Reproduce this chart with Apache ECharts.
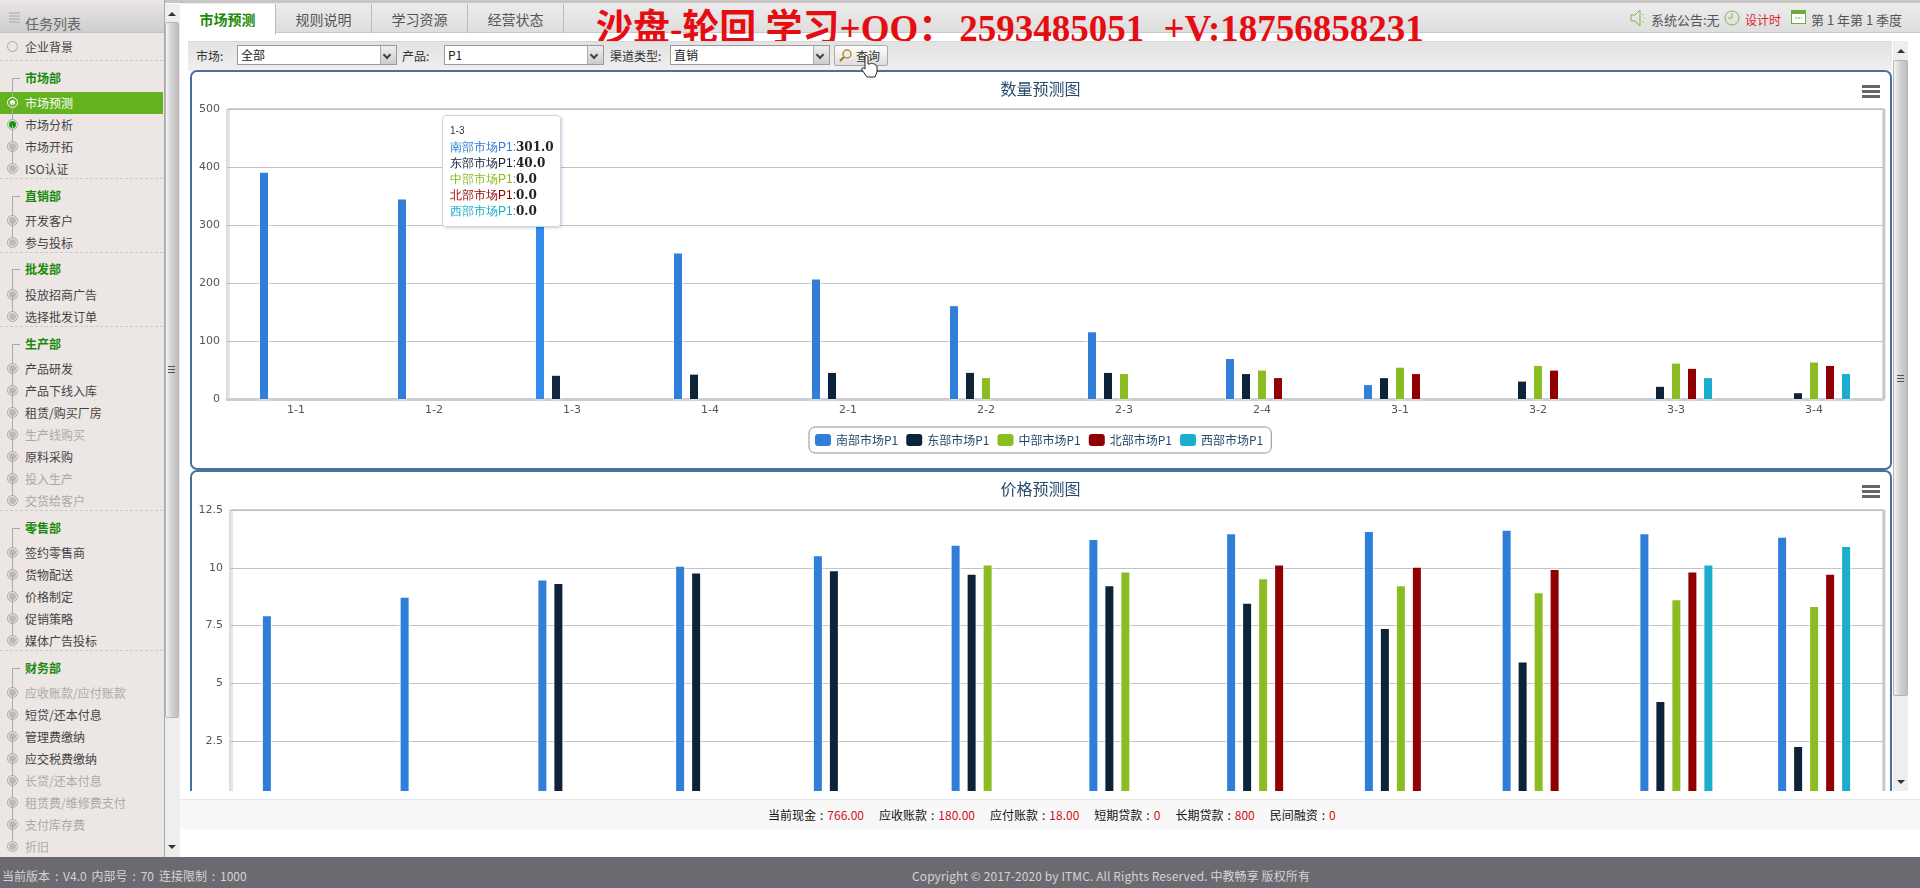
<!DOCTYPE html>
<html>
<head>
<meta charset="utf-8">
<title>市场预测</title>
<script src="https://cdn.jsdelivr.net/npm/echarts@6/dist/echarts.min.js"></script>
<style>
html, body { margin: 0; padding: 0; width: 1920px; height: 888px; overflow: hidden; background: #fff; font: 12px "Noto Sans CJK SC", sans-serif; color: #444; }
.abs { position: absolute; white-space: nowrap; }
#side { left: 0; top: 0; width: 164px; height: 857px; background: #ece6e5; overflow: hidden; border-right: 1px solid #aaa; }
#sideHead { left: 0; top: 4px; width: 164px; height: 28px; background: linear-gradient(#e4e2e2, #cfcdcd); border-bottom: 1px solid #c4c2c2; }
.bar { background: linear-gradient(90deg, #f4f4f4, #d0d0d0 50%, #bfbfbf); border: 1px solid #b5b5b5; box-sizing: border-box; border-radius: 2px; }
.track { background: #eee; }
.tab { top: 4px; height: 29px; width: 96px; line-height: 30px; text-align: center; font-size: 14px; color: #555; border-right: 1px solid #bbb; box-sizing: border-box; }
.sel { height: 20px; background: #fff; border: 1px solid #9a9a9a; box-sizing: border-box; line-height: 18px; padding-left: 3px; color: #222; }
.sel i { position: absolute; right: 0; top: 0; width: 15px; height: 18px; background: linear-gradient(#eee, #ccc); border-left: 1px solid #aaa; }
.sel i:after { content: ""; position: absolute; left: 3px; top: 6px; width: 4px; height: 4px; border-right: 2px solid #444; border-bottom: 2px solid #444; transform: rotate(45deg); }
.panel { left: 190px; width: 1702px; box-sizing: border-box; border: 2px solid #4a709c; border-radius: 7px; background: #fff; }
.chart { position: absolute; }
</style>
</head>
<body>
<div class="abs" style="left:0;top:0;width:1920px;height:3px;background:#c9c5c5"></div>

<!-- left task list -->
<div class="abs" id="side"></div>
<div class="abs" id="sideHead"></div>
<svg class="abs" style="left:9px;top:12px" width="12" height="13"><path d="M0 1h11M0 4h11M0 7h11M0 10h11" stroke="#aaa"/></svg>
<div class="abs" style="left:25px;top:14px;font-size:14px;line-height:18px;color:#666">任务列表</div>
<div id="nav"></div>
<div class="abs track" style="left:165px;top:4px;width:15px;height:853px"></div>
<div class="abs" style="left:168px;top:12px;border:4px solid transparent;border-bottom:4px solid #333;border-top:0"></div>
<div class="abs bar" style="left:165px;top:22px;width:14px;height:696px"></div>
<div class="abs" style="left:168px;top:366px;width:7px;height:7px;border-top:1px solid #555;border-bottom:1px solid #555;box-sizing:border-box"></div>
<div class="abs" style="left:168px;top:369px;width:7px;height:1px;background:#555"></div>
<div class="abs" style="left:168px;top:845px;border:4px solid transparent;border-top:4px solid #333;border-bottom:0"></div>

<!-- tabs -->
<div class="abs" style="left:180px;top:3px;width:1740px;height:29px;background:linear-gradient(#ececec,#dedede);border-bottom:1px solid #c9c9c9"></div>
<div class="abs tab" id="tab0" style="left:180px;background:#fff;color:#1a8a0a;font-weight:bold;height:31px">市场预测</div>
<div class="abs tab" style="left:276px">规则说明</div>
<div class="abs tab" style="left:372px">学习资源</div>
<div class="abs tab" style="left:468px">经营状态</div>
<div class="abs" id="banner" style="left:596px;top:8px;font:bold 37px/42px 'Liberation Serif','Noto Sans CJK SC',serif;color:#e60d12">沙盘-轮回 学习+QQ：<span style="margin-left:4px">2593485051</span> <span style="margin-left:10px">+V:18756858231</span></div>

<svg class="abs" style="left:1630px;top:8px" width="16" height="20" fill="none" stroke="#7ab648"><path d="M1 7h4l5-5v16l-5-5H1zM13 6v1M13 13v1M14 10h1"/></svg>
<div class="abs" style="left:1651px;top:10px;color:#555;font-size:13px">系统公告:无</div>
<svg class="abs" style="left:1724px;top:10px" width="16" height="16" fill="none" stroke="#7ab648"><circle cx="8" cy="8" r="7"/><path d="M8 3v5H4"/></svg>
<div class="abs" style="left:1745px;top:11px;color:#d9232a">设计时</div>
<svg class="abs" style="left:1791px;top:10px" width="16" height="15"><rect x=".5" y=".5" width="14" height="13" fill="#fff" stroke="#6dab3c"/><rect x="1" y="1" width="13" height="3" fill="#6dab3c"/><path d="M4 8h7" stroke="#6dab3c" stroke-dasharray="2 1"/></svg>
<div class="abs" style="left:1811px;top:10px;color:#555;font-size:13px">第 1 年第 1 季度</div>

<!-- filter bar -->
<div class="abs" style="left:188px;top:41px;width:1704px;height:30px;background:linear-gradient(#e2e2e2,#f0f0f0);border-top:1px solid #d8d8d8;box-sizing:border-box"></div>
<div class="abs" style="left:196px;top:47px;color:#333">市场:</div>
<div class="abs sel" style="left:237px;top:45px;width:160px">全部<i></i></div>
<div class="abs" style="left:402px;top:47px;color:#333">产品:</div>
<div class="abs sel" style="left:444px;top:45px;width:160px">P1<i></i></div>
<div class="abs" style="left:610px;top:47px;color:#333">渠道类型:</div>
<div class="abs sel" style="left:670px;top:45px;width:160px">直销<i></i></div>
<div class="abs" style="left:834px;top:45px;width:54px;height:21px;border:1px solid #aaa;box-sizing:border-box;background:linear-gradient(#fff,#ddd);line-height:20px;padding-left:21px;color:#333;border-radius:2px">查询</div>
<svg class="abs" style="left:838px;top:48px" width="15" height="15" fill="none"><circle cx="9" cy="6" r="4" stroke="#c08a30" stroke-width="1.5" fill="#e6eef8"/><path d="M6 9l-4 4" stroke="#b06a20" stroke-width="2"/></svg>

<!-- chart panels -->
<div class="abs panel" style="top:70px;height:400px"></div>
<div class="abs" style="left:190px;top:470px;width:1702px;height:321px;overflow:hidden">
  <div class="abs panel" style="left:0;top:0;height:420px"></div>
  <div class="chart" id="priceChart" style="left:0;top:2px;width:1701px;height:420px"></div>
</div>
<div class="chart" id="qtyChart" style="left:190px;top:71px;width:1701px;height:399px"></div>

<!-- right scrollbar -->
<div class="abs track" style="left:1893px;top:41px;width:15px;height:750px"></div>
<div class="abs" style="left:1897px;top:49px;border:4px solid transparent;border-bottom:4px solid #333;border-top:0"></div>
<div class="abs bar" style="left:1893px;top:60px;width:15px;height:636px"></div>
<div class="abs" style="left:1897px;top:375px;width:7px;height:7px;border-top:1px solid #555;border-bottom:1px solid #555;box-sizing:border-box"></div>
<div class="abs" style="left:1897px;top:378px;width:7px;height:1px;background:#555"></div>
<div class="abs" style="left:1897px;top:780px;border:4px solid transparent;border-top:4px solid #333;border-bottom:0"></div>

<!-- hand cursor -->
<svg class="abs" style="left:860px;top:55px" width="18" height="24"><path d="M5 2c0-2 3-2 3 0v7l2 0c1-1 2-1 3 0 1-1 2 0 2 1 1 0 2 0 2 2v5l-2 5H7L2 15c-1-2 1-3 3-1z" fill="#fff" stroke="#222"/></svg>

<!-- status bar -->
<div class="abs" style="left:180px;top:799px;width:1740px;height:31px;background:#f8f8f8;border-top:1px solid #e6e6e6;box-sizing:border-box"></div>
<div class="abs" id="status" style="left:768px;top:806px;color:#111"></div>

<!-- footer -->
<div class="abs" style="left:0;top:857px;width:1920px;height:31px;background:#6b6a70"></div>
<div class="abs" style="left:2px;top:867px;color:#d4d4d4;word-spacing:2.2px">当前版本 : V4.0 内部号 : 70 连接限制 : 1000</div>
<div class="abs" style="left:912px;top:867px;color:#d4d4d4;letter-spacing:0.1px">Copyright © 2017-2020 by ITMC. All Rights Reserved. 中教畅享 版权所有</div>

<script>
// 数据
const categories = ['1-1', '1-2', '1-3', '1-4', '2-1', '2-2', '2-3', '2-4', '3-1', '3-2', '3-3', '3-4']
const seriesNames = ['南部市场P1', '东部市场P1', '中部市场P1', '北部市场P1', '西部市场P1']
const seriesColors = ['#2f7ed8', '#0d233a', '#8bbc21', '#910000', '#1aadce']

const qtySouth = [390, 344, 301, 251, 206, 160, 115, 69, 24, null, null, null]
const qtyEast = [null, null, 40, 42, 45, 45, 45, 43, 36, 30, 21, 10]
const qtyCenter = [null, null, null, null, null, 36, 43, 49, 54, 57, 61, 63]
const qtyNorth = [null, null, null, null, null, null, null, 36, 43, 49, 52, 57]
const qtyWest = [null, null, null, null, null, null, null, null, null, null, 36, 43]

const priceSouth = [7.9, 8.7, 9.45, 10.05, 10.5, 10.95, 11.2, 11.45, 11.55, 11.6, 11.45, 11.3]
const priceEast = [null, null, 9.3, 9.75, 9.85, 9.7, 9.2, 8.45, 7.35, 5.9, 4.2, 2.25]
const priceCenter = [null, null, null, null, null, 10.1, 9.8, 9.5, 9.2, 8.9, 8.6, 8.3]
const priceNorth = [null, null, null, null, null, null, null, 10.1, 10.0, 9.9, 9.8, 9.7]
const priceWest = [null, null, null, null, null, null, null, null, null, null, 10.1, 10.9]

const statusItems = [['当前现金', '766.00'], ['应收账款', '180.00'], ['应付账款', '18.00'], ['短期贷款', '0'], ['长期贷款', '800'], ['民间融资', '0']]

// 左侧菜单 [文字, y, 类型] h=部门 a=当前 g=可用 d=灰
const navItems = [
    ['企业背景', 47, 'r'],
    ['市场部', 78, 'h'], ['市场预测', 103, 'a'], ['市场分析', 125, 'c'], ['市场开拓', 147, 'g'], ['ISO认证', 169, 'g'],
    ['直销部', 196, 'h'], ['开发客户', 221, 'g'], ['参与投标', 243, 'g'],
    ['批发部', 269, 'h'], ['投放招商广告', 295, 'g'], ['选择批发订单', 317, 'g'],
    ['生产部', 344, 'h'], ['产品研发', 369, 'g'], ['产品下线入库', 391, 'g'], ['租赁/购买厂房', 413, 'g'], ['生产线购买', 435, 'd'], ['原料采购', 457, 'g'], ['投入生产', 479, 'd'], ['交货给客户', 501, 'd'],
    ['零售部', 528, 'h'], ['签约零售商', 553, 'g'], ['货物配送', 575, 'g'], ['价格制定', 597, 'g'], ['促销策略', 619, 'g'], ['媒体广告投标', 641, 'g'],
    ['财务部', 668, 'h'], ['应收账款/应付账款', 693, 'd'], ['短贷/还本付息', 715, 'g'], ['管理费缴纳', 737, 'g'], ['应交税费缴纳', 759, 'g'], ['长贷/还本付息', 781, 'd'], ['租赁费/维修费支付', 803, 'd'], ['支付库存费', 825, 'd'], ['折旧', 847, 'd']
]
const dashLines = [60, 178, 252, 326, 510, 650]

function buildNav() {
    let html = ''
    dashLines.forEach(function (y) {
        html += `<div class="abs" style="left:0;top:${y}px;width:163px;border-top:1px dashed #cfc9c9"></div>`
    })
    navItems.forEach(function (item, i) {
        let text = item[0], y = item[1], kind = item[2]
        if (kind == 'h') {
            html += `<div class="abs" style="left:12px;top:${y}px;width:8px;height:1px;background:#aaa"></div>`
            html += `<div class="abs" style="left:25px;top:${y - 9}px;line-height:18px;font-weight:bold;color:#1a8a0a">${text}</div>`
            return
        }
        if (kind == 'a') {
            html += `<div class="abs" style="left:0;top:92px;width:163px;height:22px;background:#62b31d"></div>`
        }
        // 竖线连到上一项
        if (kind != 'r') {
            let prev = navItems[i - 1][1]
            html += `<div class="abs" style="left:12px;top:${prev}px;width:1px;height:${y - prev}px;background:#aaa"></div>`
        }
        let color = kind == 'a' ? '#fff' : kind == 'd' ? '#aaa' : '#444'
        let dot = kind == 'c' ? '#0f9a0f' : kind == 'a' ? '#fff' : kind == 'r' ? '#ece6e5' : '#bbb'
        let ring = kind == 'a' ? '#fff' : '#aaa'
        let ringFill = kind == 'a' ? '#62b31d' : '#ece6e5'
        html += `<div class="abs" style="left:7px;top:${y - 6}px;width:11px;height:11px;border:1px solid ${ring};border-radius:50%;background:${ringFill};box-sizing:border-box"></div>`
        html += `<div class="abs" style="left:${kind == 'a' ? 10 : 9}px;top:${kind == 'a' ? y - 3 : y - 4}px;width:${kind == 'a' ? 5 : 7}px;height:${kind == 'a' ? 5 : 7}px;border-radius:50%;background:${dot}"></div>`
        html += `<div class="abs" style="left:25px;top:${y - 9}px;line-height:18px;color:${color}">${text}</div>`
    })
    document.getElementById('nav').innerHTML = html
}
buildNav()

document.getElementById('status').innerHTML = statusItems.map(function (s) {
    return `<span style="margin-right:15px">${s[0]}<span style="margin:0 4px">:</span><span style="color:#d0101a">${s[1]}</span></span>`
}).join('')

function makeSeries(lists) {
    return lists.map(function (list, i) {
        return {
            name: seriesNames[i],
            type: 'bar',
            data: list,
            barWidth: 8,
            barGap: '100%',
            itemStyle: { color: seriesColors[i], shadowColor: '#fff', shadowBlur: 5 }
        }
    })
}

// 右上角菜单图标，三条横杠
function menuBar(y) {
    return { type: 'rect', shape: { x: 0, y: y, width: 18, height: 3 }, style: { fill: '#666' } }
}

function makeOption(title, titleTop, iconTop, grid, yMax, yStep, lists) {
    return {
        animation: false,
        color: seriesColors,
        title: {
            text: title, left: 'center', top: titleTop,
            textStyle: { fontSize: 16, fontWeight: 'normal', color: '#274b6d', fontFamily: 'Noto Sans CJK SC' }
        },
        graphic: [{
            type: 'group', left: 1672, top: iconTop,
            children: [menuBar(0), menuBar(5), menuBar(10)]
        }],
        legend: {
            bottom: 17, left: 619,
            itemWidth: 16, itemHeight: 12, itemGap: 8,
            padding: [7, 8, 7, 6],
            borderColor: '#909090', borderWidth: 1, borderRadius: 6,
            textStyle: { fontSize: 12, color: '#274b6d', fontFamily: 'Noto Sans CJK SC' },
            data: seriesNames
        },
        grid: Object.assign({
            show: true, borderColor: '#bbb', borderWidth: 1, backgroundColor: '#fff',
            shadowColor: '#cccccc', shadowBlur: 0, shadowOffsetX: 2, shadowOffsetY: 0
        }, grid),
        xAxis: {
            type: 'category',
            data: categories,
            axisLine: { lineStyle: { color: '#c8ccd4', width: 3 } },
            axisTick: { length: 5, lineStyle: { color: '#c0d0e0' } },
            axisLabel: { color: '#555', fontSize: 11, margin: 6, fontFamily: 'DejaVu Sans' }
        },
        yAxis: {
            type: 'value',
            min: 0, max: yMax, interval: yStep,
            axisLine: { show: false },
            axisTick: { show: false },
            axisLabel: { color: '#555', fontSize: 11, margin: 7, padding: [2, 0, 0, 0], fontFamily: 'DejaVu Sans' },
            splitLine: { lineStyle: { color: '#c0c0c0' } }
        },
        series: makeSeries(lists)
    }
}

const qtyLists = [qtySouth, qtyEast, qtyCenter, qtyNorth, qtyWest]
const priceLists = [priceSouth, priceEast, priceCenter, priceNorth, priceWest]

var qtyChart = echarts.init(document.getElementById('qtyChart'))
var qtyOption = makeOption('数量预测图', 5, 14, { left: 37, right: 8, top: 38, bottom: 71 }, 500, 100, qtyLists)
qtyOption.tooltip = {
    trigger: 'axis',
    triggerOn: 'none',
    alwaysShowContent: true,
    transitionDuration: 0,
    position: [252, 44],
    axisPointer: { type: 'none' },
    backgroundColor: 'rgba(255,255,255,0.96)',
    borderColor: '#c5d9ee',
    borderWidth: 1,
    padding: [5, 7, 7, 7],
    extraCssText: 'border-radius:4px;box-shadow:1px 1px 3px rgba(0,0,0,0.2);width:103px;',
    formatter: function (params) {
        let rows = `<div style="font-size:10px;line-height:16px;color:#333;margin-top:2px">${params[0].name}</div>`
        params.forEach(function (p) {
            let val = (p.value || 0).toFixed(1)
            rows += `<div style="font-size:12px;line-height:16px;color:${p.color}">${p.seriesName}:<b style="color:#222;font:bold 12px 'DejaVu Serif',serif">${val}</b></div>`
        })
        return rows
    }
}
qtyChart.setOption(qtyOption)
qtyChart.dispatchAction({ type: 'showTip', seriesIndex: 0, dataIndex: 2 })

var priceChart = echarts.init(document.getElementById('priceChart'))
// 图表下半部分被外层裁掉
priceChart.setOption(makeOption('价格预测图', 4, 13, { left: 40, right: 8, top: 38, bottom: 93 }, 12.5, 2.5, priceLists))
</script>
</body>
</html>
